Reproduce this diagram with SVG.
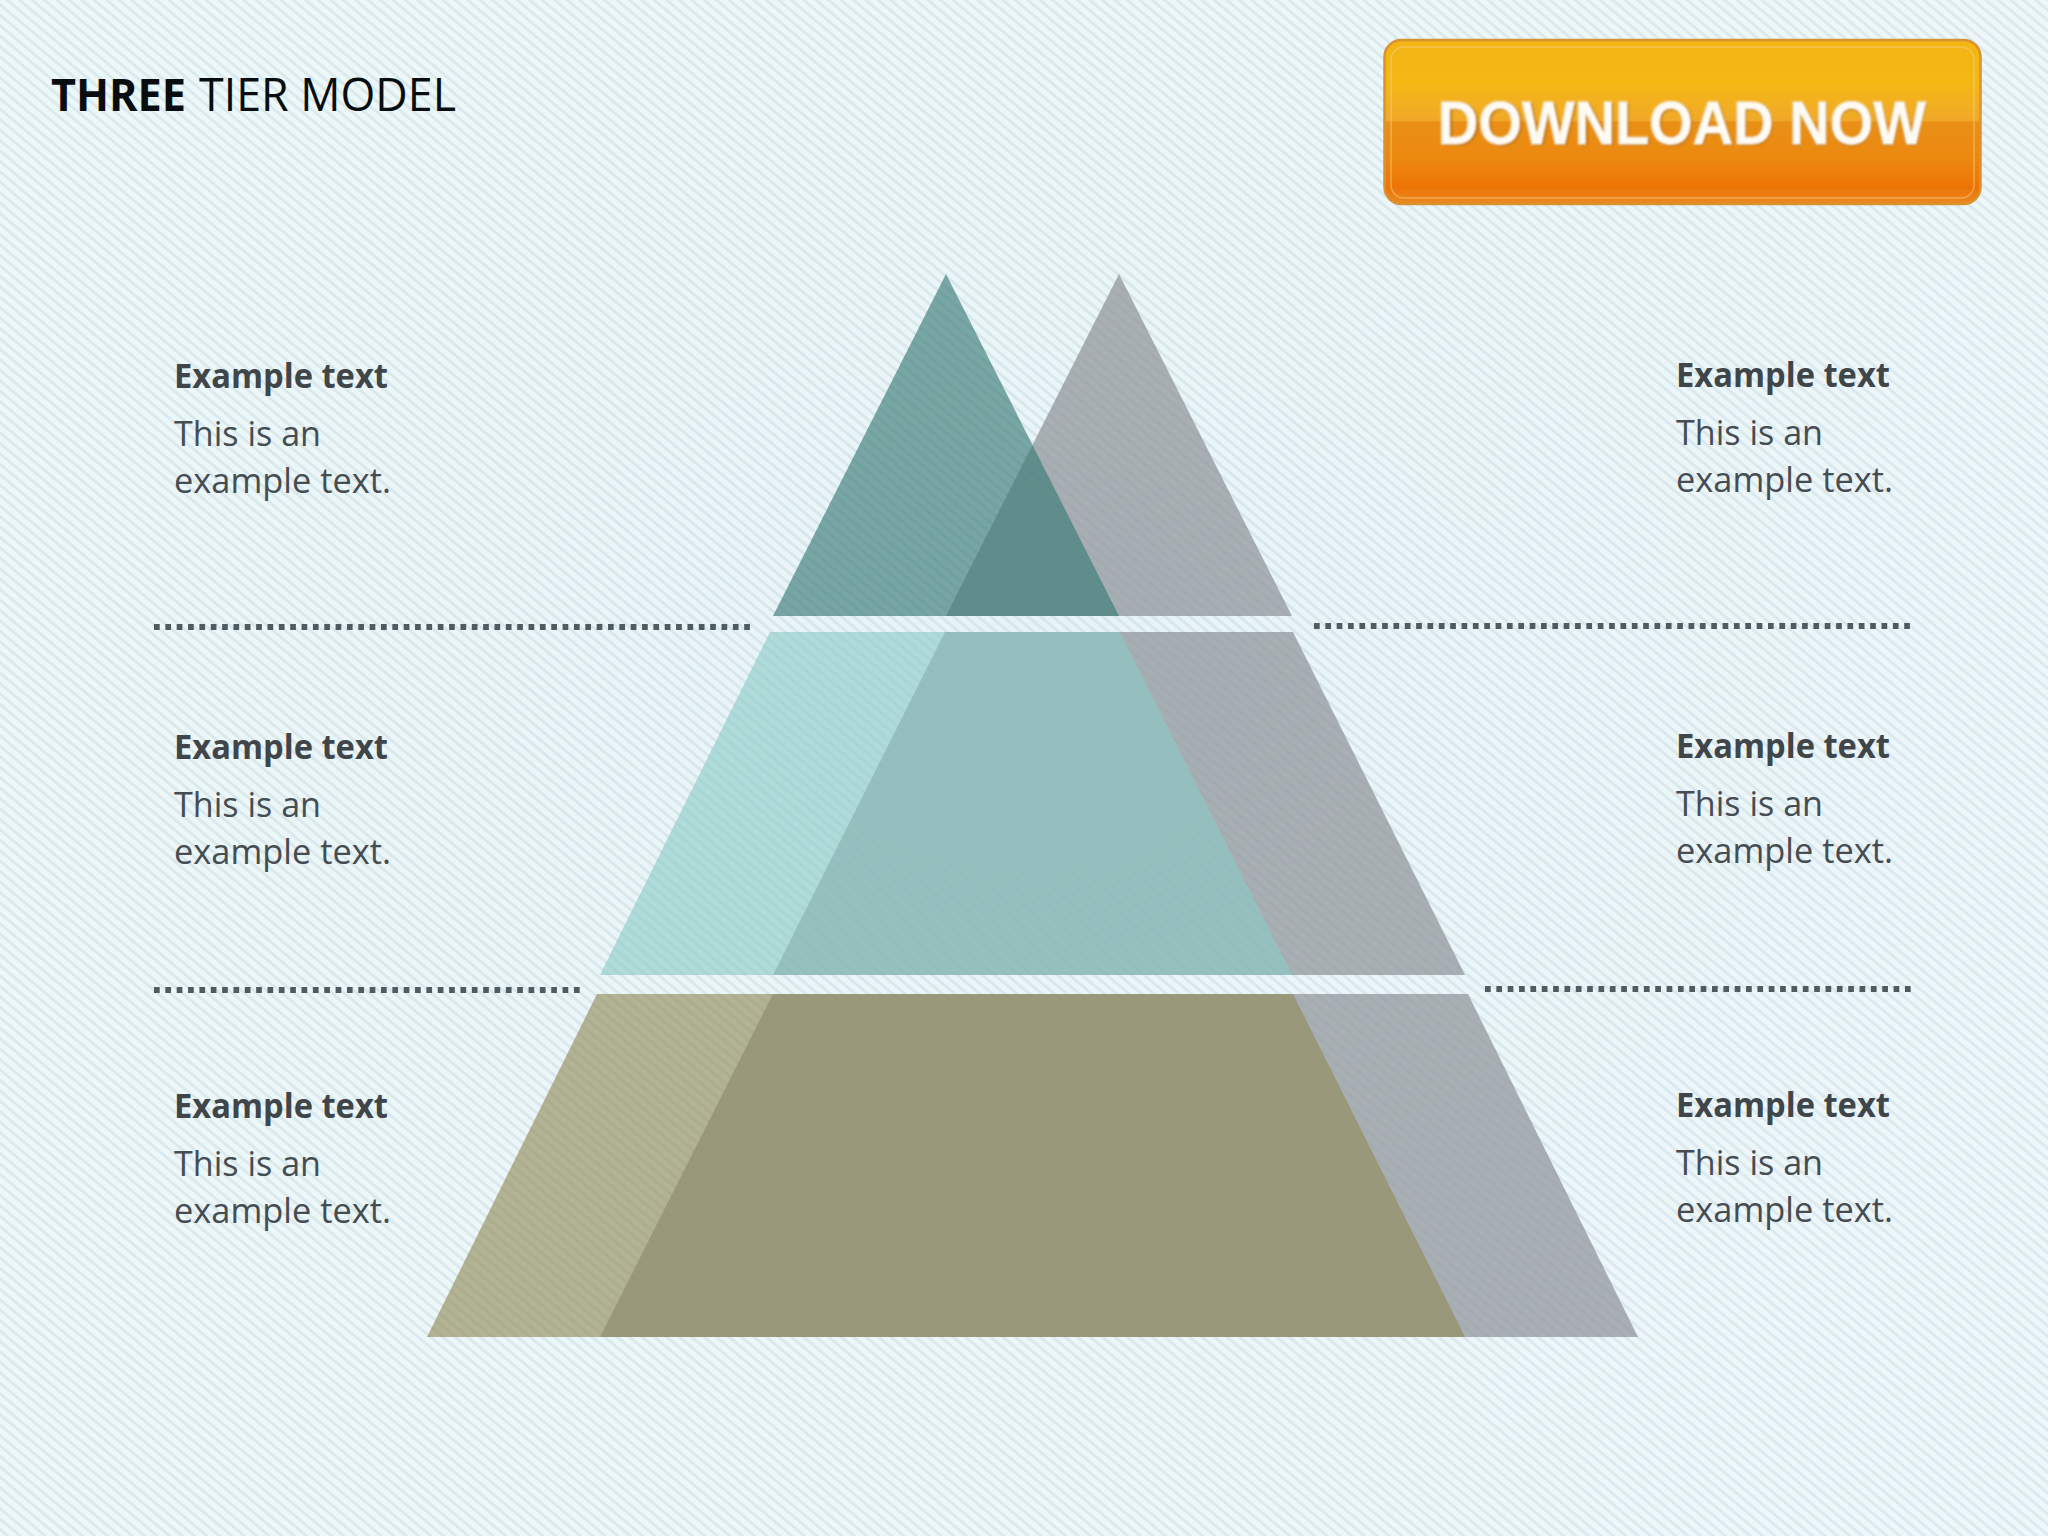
<svg xmlns="http://www.w3.org/2000/svg" width="2048" height="1536" viewBox="0 0 2048 1536">
<defs>
<pattern id="stripes" width="8" height="8" patternUnits="userSpaceOnUse" patternTransform="rotate(40)">
<rect y="2" width="8" height="3" fill="#b9ccd6" opacity="0.32"/>
</pattern>
<linearGradient id="bgBase" x1="0" y1="0" x2="1" y2="0.3">
<stop offset="0" stop-color="#e9f6f7"/>
<stop offset="0.55" stop-color="#eaf6f7"/>
<stop offset="1" stop-color="#ebf5fa"/>
</linearGradient>
<radialGradient id="bgPatch" cx="0.5" cy="0.45" r="0.6">
<stop offset="0" stop-color="#e6f3f7" stop-opacity="0.9"/>
<stop offset="1" stop-color="#f0f9fa" stop-opacity="0.5"/>
</radialGradient>
<linearGradient id="btn" x1="0" y1="0" x2="0" y2="1">
<stop offset="0" stop-color="#f2b514"/>
<stop offset="0.25" stop-color="#f4b814"/>
<stop offset="0.49" stop-color="#f1a928"/>
<stop offset="0.5" stop-color="#e99017"/>
<stop offset="0.72" stop-color="#ec890f"/>
<stop offset="0.9" stop-color="#ed7406"/>
<stop offset="1" stop-color="#e98a22"/>
</linearGradient>
<filter id="soft" x="-5%" y="-20%" width="110%" height="140%">
<feGaussianBlur stdDeviation="0.8"/>
</filter>
<filter id="softer" x="-5%" y="-20%" width="110%" height="140%">
<feGaussianBlur stdDeviation="1.8"/>
</filter>
</defs>
<style>
.title{font-family:"Open Sans","Noto Sans",sans-serif;font-size:45px;fill:#0a0d10}
.head{font-family:"Open Sans","Noto Sans",sans-serif;font-size:34px;font-weight:700;fill:#3f4549}
.body{font-family:"Open Sans","Noto Sans",sans-serif;font-size:34px;fill:#454c52}
.dots{fill:none;stroke:#4e5b60;stroke-width:6;stroke-dasharray:5.7 5.65}
.btnText{font-family:"Liberation Sans",Arial,sans-serif;font-size:61px;font-weight:700}
.r1{fill:#92979c;fill-opacity:.75}
.l1{fill:#3b7b76;fill-opacity:.65}
.l2{fill:#8acbc5;fill-opacity:.61}
.l3{fill:#918b5b;fill-opacity:.64}
</style>

<g id="background">
<rect width="2048" height="1536" fill="url(#bgBase)"/>
<rect width="2048" height="1536" fill="url(#bgPatch)"/>
<rect width="2048" height="1536" fill="url(#stripes)"/>
</g>

<g id="title">
<text class="title" y="110.5"><tspan x="51" font-weight="700" textLength="135" lengthAdjust="spacingAndGlyphs">THREE</tspan> <tspan x="199" textLength="257" lengthAdjust="spacingAndGlyphs">TIER MODEL</tspan></text>
</g>

<g id="download-button">
<rect x="1384.5" y="40" width="596" height="164" rx="17" fill="url(#btn)" stroke="#d9922f" stroke-width="2.5"/>
<rect x="1391" y="47" width="583" height="151" rx="13" fill="none" stroke="#f8cf8c" stroke-width="1.5" opacity="0.5"/>
<text class="btnText" x="1440" y="145" textLength="486" lengthAdjust="spacingAndGlyphs" fill="#9a5a18" opacity="0.8" filter="url(#softer)">DOWNLOAD NOW</text>
<text class="btnText" x="1438" y="144" textLength="488" lengthAdjust="spacingAndGlyphs" fill="#fffaf2" stroke="#fffaf2" stroke-width="0.8" filter="url(#soft)">DOWNLOAD NOW</text>
</g>

<g id="pyramid-back">
<polygon id="back-tier-1" class="r1" points="1119,274 1292,616 946,616"/>
<polygon id="back-tier-2" class="r1" points="945,632 1293,632 1465,975 773,975"/>
<polygon id="back-tier-3" class="r1" points="773,994 1468,994 1638,1337 600,1337"/>
</g>
<g id="pyramid-front">
<polygon id="front-tier-1" class="l1" points="946,274 1119,616 773,616"/>
<polygon id="front-tier-2" class="l2" points="770,632 1120,632 1292,975 600,975"/>
<polygon id="front-tier-3" class="l3" points="597,994 1293,994 1465,1337 427,1337"/>
</g>

<g id="connectors">
<path class="dots" d="M154 627H752"/>
<path class="dots" d="M154 990H581"/>
<path class="dots" d="M1314 626H1912"/>
<path class="dots" d="M1485 989H1912"/>
</g>

<g id="left-1">
<text class="head" x="174" y="388" textLength="214" lengthAdjust="spacingAndGlyphs">Example text</text>
<text class="body" x="174" y="445.5" textLength="147" lengthAdjust="spacingAndGlyphs">This is an</text>
<text class="body" x="174" y="493" textLength="217" lengthAdjust="spacingAndGlyphs">example text.</text>
</g>
<g id="left-2">
<text class="head" x="174" y="759" textLength="214" lengthAdjust="spacingAndGlyphs">Example text</text>
<text class="body" x="174" y="816.5" textLength="147" lengthAdjust="spacingAndGlyphs">This is an</text>
<text class="body" x="174" y="864" textLength="217" lengthAdjust="spacingAndGlyphs">example text.</text>
</g>
<g id="left-3">
<text class="head" x="174" y="1118" textLength="214" lengthAdjust="spacingAndGlyphs">Example text</text>
<text class="body" x="174" y="1175.5" textLength="147" lengthAdjust="spacingAndGlyphs">This is an</text>
<text class="body" x="174" y="1223" textLength="217" lengthAdjust="spacingAndGlyphs">example text.</text>
</g>
<g id="right-1">
<text class="head" x="1676" y="387" textLength="214" lengthAdjust="spacingAndGlyphs">Example text</text>
<text class="body" x="1676" y="444.5" textLength="147" lengthAdjust="spacingAndGlyphs">This is an</text>
<text class="body" x="1676" y="492" textLength="217" lengthAdjust="spacingAndGlyphs">example text.</text>
</g>
<g id="right-2">
<text class="head" x="1676" y="758" textLength="214" lengthAdjust="spacingAndGlyphs">Example text</text>
<text class="body" x="1676" y="815.5" textLength="147" lengthAdjust="spacingAndGlyphs">This is an</text>
<text class="body" x="1676" y="863" textLength="217" lengthAdjust="spacingAndGlyphs">example text.</text>
</g>
<g id="right-3">
<text class="head" x="1676" y="1117" textLength="214" lengthAdjust="spacingAndGlyphs">Example text</text>
<text class="body" x="1676" y="1174.5" textLength="147" lengthAdjust="spacingAndGlyphs">This is an</text>
<text class="body" x="1676" y="1222" textLength="217" lengthAdjust="spacingAndGlyphs">example text.</text>
</g>
</svg>
